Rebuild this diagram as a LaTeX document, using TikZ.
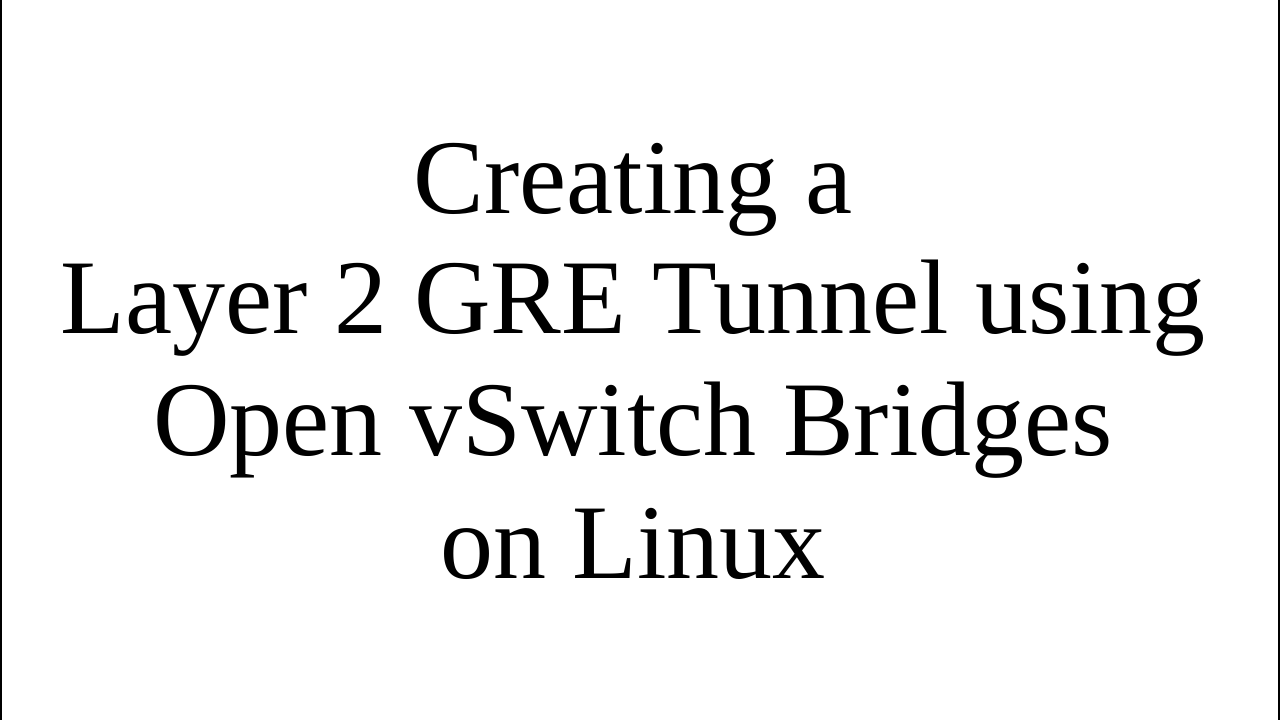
\documentclass[tikz,border=0pt]{standalone}
\usepackage{fontspec}
\setmainfont{Liberation Serif}
\begin{document}
\begin{tikzpicture}[x=1pt,y=-1pt,title/.style={anchor=base,font=\fontsize{106}{120}\selectfont,inner sep=0pt}]
\useasboundingbox (0,0) rectangle (1280,720);
\fill[white] (0,0) rectangle (1280,720);
\fill[black] (0,0) rectangle (2,720);
\fill[black] (1278,0) rectangle (1280,720);
\node[title] (l1) at (633,213) {Creating a};
\node[title] (l2) at (633,333) {Layer 2 GRE Tunnel using};
\node[title] (l3) at (633,455) {Open vSwitch Bridges};
\node[title] (l4) at (633,578) {on Linux};
\end{tikzpicture}
\end{document}
